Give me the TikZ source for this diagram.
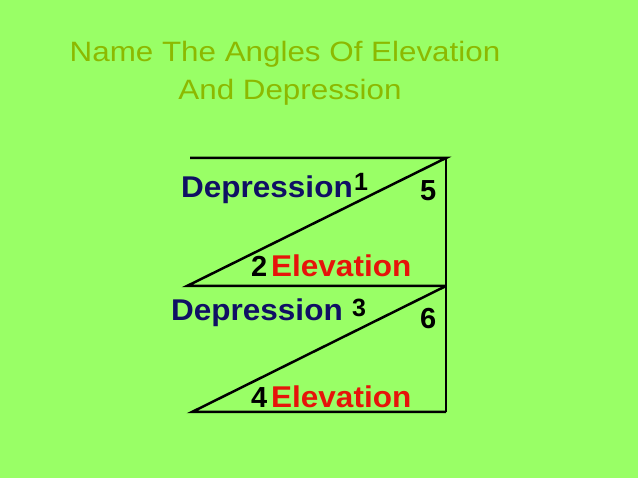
\documentclass[tikz,border=0pt]{standalone}
\usepackage{fontspec}
\setmainfont{Liberation Sans}
\newfontfamily\titlefont[FakeStretch=1.12]{Liberation Sans}
\newfontfamily\labelfont[FakeStretch=1.05]{Liberation Sans}
\usepackage{tikz}
\usetikzlibrary{calc, positioning}
\definecolor{slidegreen}{RGB}{153,255,102}
\definecolor{titleolive}{RGB}{140,185,0}
\definecolor{deprblue}{RGB}{16,16,100}
\definecolor{elevred}{RGB}{230,20,10}

\begin{document}
\begin{tikzpicture}[x=1pt, y=-1pt,
    title/.style={text=titleolive, font=\titlefont\fontsize{28}{34}\selectfont, inner sep=0pt, anchor=base},
    deprlabel/.style={text=deprblue, font=\labelfont\fontsize{30}{34}\selectfont\bfseries, inner sep=0pt, anchor=base west},
    elevlabel/.style={text=elevred, font=\labelfont\fontsize{30}{34}\selectfont\bfseries, inner sep=0pt, anchor=base west},
    numlabel/.style={text=black, font=\fontsize{29}{34}\selectfont\bfseries, inner sep=0pt, anchor=base west},
    smallnum/.style={text=black, font=\fontsize{25}{30}\selectfont\bfseries, inner sep=0pt, anchor=base west},
    edge/.style={black, line width=2.5pt}]
  \useasboundingbox (0,0) rectangle (638,478);
  \fill[slidegreen] (0,0) rectangle (638,478);
  % Title
  \node[title] (titleA) at (285,62) {Name The Angles Of Elevation};
  \node[title] (titleB) at (290,100) {And Depression};
  % Corners
  \coordinate (topL) at (190,158);
  \coordinate (topR) at (446,158);
  \coordinate (midL) at (187,286);
  \coordinate (midR) at (446,286);
  \coordinate (botL) at (192,412);
  \coordinate (botR) at (446,412);
  % Upper triangle
  \draw[edge] (topL) -- (topR) -- (midL) -- (midR);
  % Lower triangle
  \draw[edge] (midR) -- (botL) -- (botR);
  % Vertical side
  \draw[edge] (topR) -- (botR);
  % Labels
  \node[deprlabel] (deprA) at (181,198) {Depression};
  \node[smallnum] (one) at (354,191) {1};
  \node[numlabel] (five) at (420,201) {5};
  \node[numlabel] (two) at (251,277) {2};
  \node[elevlabel] (elevA) at (271,277) {Elevation};
  \node[deprlabel] (deprB) at (171,321) {Depression};
  \node[smallnum] (three) at (352,317) {3};
  \node[numlabel] (six) at (420,329) {6};
  \node[numlabel] (four) at (251,408) {4};
  \node[elevlabel] (elevB) at (271,408) {Elevation};
\end{tikzpicture}
\end{document}
